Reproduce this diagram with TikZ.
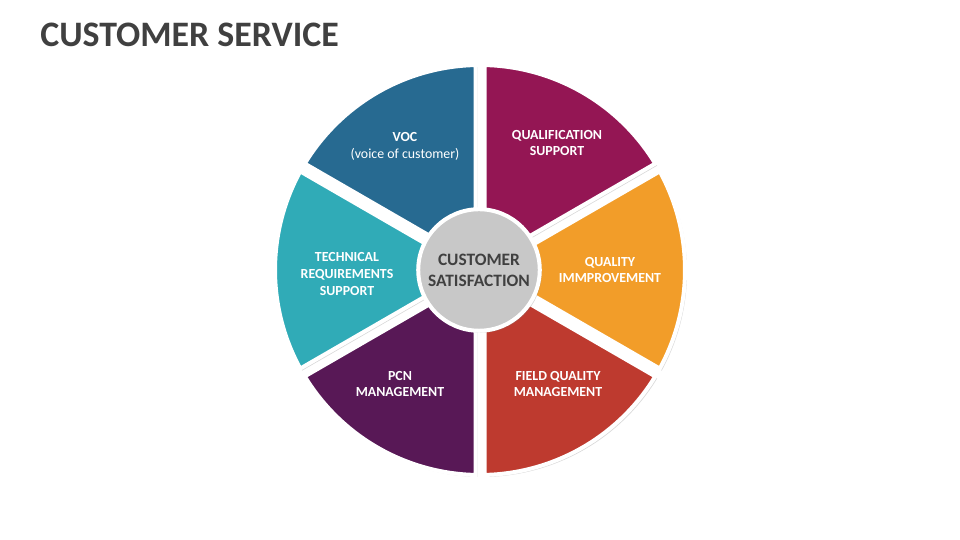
\documentclass[tikz,border=0pt]{standalone}
\usepackage{fontspec}
\setmainfont{Carlito}
\usepackage{tikz}
\usetikzlibrary{shadows}

\definecolor{vocblue}{HTML}{276A91}
\definecolor{qualmagenta}{HTML}{941654}
\definecolor{qualorange}{HTML}{F29D29}
\definecolor{fieldred}{HTML}{BE3A2F}
\definecolor{pcnpurple}{HTML}{581856}
\definecolor{techteal}{HTML}{30ABB7}
\definecolor{hubgray}{HTML}{C8C8C8}
\definecolor{titlegray}{HTML}{404040}

\tikzset{
  sector/.style={draw=white, line width=0.08cm,
    drop shadow={shadow xshift=0.04cm, shadow yshift=-0.04cm, opacity=0.3}},
  sectortext/.style={text=white, align=center, inner sep=0pt,
    font=\bfseries\fontsize{7.9}{9.6}\selectfont},
  hubcircle/.style={circle, fill=hubgray, draw=white, line width=0.08cm,
    minimum size=2.2cm, align=center, text=titlegray,
    drop shadow={shadow xshift=0.04cm, shadow yshift=-0.04cm, opacity=0.3},
    font=\bfseries\fontsize{9.9}{11.9}\selectfont}
}

\begin{document}
\begin{tikzpicture}[x=0.02cm, y=0.02cm]

  \useasboundingbox (0,0) rectangle (960,540);
  \fill[white] (0,0) rectangle (960,540);

  \node[anchor=base west, inner sep=0pt, text=titlegray,
    font=\bfseries\fontsize{20.4}{24}\selectfont] (title) at (40,493)
  {CUSTOMER SERVICE};

  % six sectors of the wheel
  \foreach \a/\col in {30/qualmagenta, -30/qualorange, -90/fieldred,
                       -150/pcnpurple, 150/techteal, 90/vocblue}
  {
    \path[sector, fill=\col, shift={(480,270)}]
      (\a+30:9) -- (\a+1.26:205)
      arc[start angle=\a+1.26, end angle=\a+58.74, radius=205] -- cycle;
  }

  \node[hubcircle] (hub) at (479,270) {CUSTOMER\\SATISFACTION};

  \node[sectortext] (voc) at (405,394)
  {VOC\\{\mdseries (voice of customer)}};

  \node[sectortext] (qualification) at (557,397)
  {QUALIFICATION\\SUPPORT};

  \node[sectortext] (technical) at (347,266)
  {TECHNICAL\\REQUIREMENTS\\SUPPORT};

  \node[sectortext] (quality) at (610,270)
  {QUALITY\\IMMPROVEMENT};

  \node[sectortext] (pcn) at (400,156)
  {PCN\\MANAGEMENT};

  \node[sectortext] (field) at (558,156)
  {FIELD QUALITY\\MANAGEMENT};

\end{tikzpicture}
\end{document}
